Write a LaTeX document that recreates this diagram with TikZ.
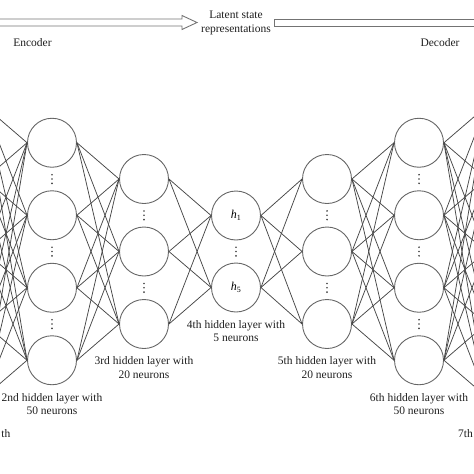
\documentclass[tikz,border=0pt]{standalone}
\usepackage{fontspec}
\setmainfont{Liberation Serif}
\begin{document}
\begin{tikzpicture}[x=1pt,y=-1pt,
  neuron/.style={circle,draw=black!60,line width=0.9pt,minimum size=49pt,inner sep=0pt,font=\fontsize{12}{14}\selectfont},
  conn/.style={draw=black!72,line width=0.75pt},
  lbl/.style={align=center,font=\fontsize{11.5}{13.6}\selectfont,inner sep=0pt,text=black!88},
  dotmark/.style={fill=black!75},
  bigarrow/.style={draw=black!55,line width=0.9pt}]
\useasboundingbox (0,0) rectangle (474,474);
\clip (0,0) rectangle (474,474);

% layers
\foreach \i/\y in {1/106.5,2/179,3/251.5,4/324,5/396.5}{
  \node[neuron] (a\i) at (-40,\y) {};
  \node[neuron] (g\i) at (511,\y) {};
}
\foreach \i/\y in {1/142.75,2/215.25,3/287.75,4/360.25}{
  \node[neuron] (b\i) at (52,\y) {};
  \node[neuron] (f\i) at (419,\y) {};
}
\foreach \i/\y in {1/179,2/251.5,3/324}{
  \node[neuron] (c\i) at (144,\y) {};
  \node[neuron] (e\i) at (327,\y) {};
}
\node[neuron] (d1) at (236,215.5) {\textit{h}\textsubscript{1}};
\node[neuron] (d2) at (236,287.5) {\textit{h}\textsubscript{5}};

% connections
\foreach \i in {1,...,5}{\foreach \j in {1,...,4}{
  \draw[conn] (a\i.east) -- (b\j.west);
  \draw[conn] (f\j.east) -- (g\i.west);
}}
\foreach \i in {1,...,4}{\foreach \j in {1,...,3}{
  \draw[conn] (b\i.east) -- (c\j.west);
  \draw[conn] (e\j.east) -- (f\i.west);
}}
\foreach \i in {1,...,3}{\foreach \j in {1,2}{
  \draw[conn] (c\i.east) -- (d\j.west);
  \draw[conn] (d\j.east) -- (e\i.west);
}}

% vertical dots
\foreach \x/\y in {52/179,52/251.5,52/324,419/179,419/251.5,419/324,
                   144/215.25,144/287.75,327/215.25,327/287.75,236/251.5}{
  \fill[dotmark] (\x,\y-4.3) circle (0.95) (\x,\y) circle (0.95) (\x,\y+4.3) circle (0.95);
}

% top arrows
\draw[bigarrow] (-5,19) -- (182,19) -- (182,15.5) -- (197,22.5) -- (182,29.5) -- (182,26) -- (-5,26);
\draw[bigarrow] (480,19) -- (274,19) -- (274,26.5) -- (480,26.5);

% texts
\node[lbl] (latent) at (236,23) {Latent state\\representations};
\node[lbl] (enc) at (32.5,43) {Encoder};
\node[lbl] (dec) at (440,43) {Decoder};
\node[lbl] (l2) at (52,404) {2nd hidden layer with\\50 neurons};
\node[lbl] (l3) at (144,367.5) {3rd hidden layer with\\20 neurons};
\node[lbl] (l4) at (236,331) {4th hidden layer with\\5 neurons};
\node[lbl] (l5) at (327,367.5) {5th hidden layer with\\20 neurons};
\node[lbl] (l6) at (419,404) {6th hidden layer with\\50 neurons};
\node[lbl,anchor=east] (l1) at (10.5,434) {th};
\node[lbl,anchor=west] (l7) at (458,434) {7th};
\end{tikzpicture}
\end{document}
